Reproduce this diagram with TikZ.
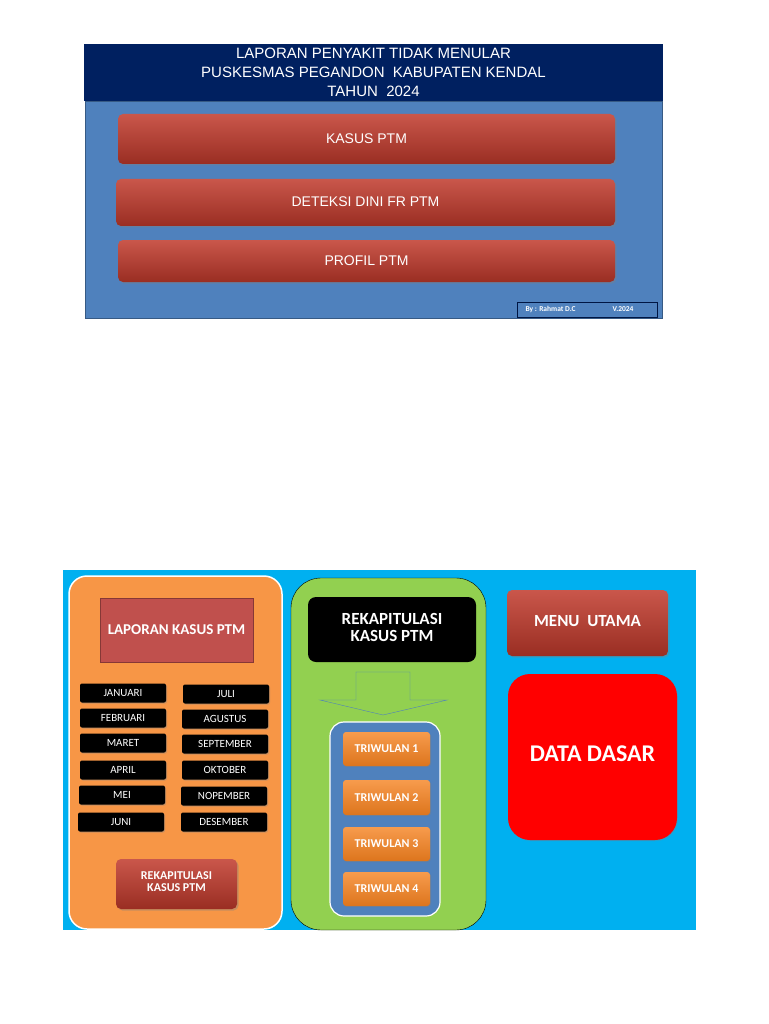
\documentclass[tikz,border=0pt]{standalone}
\usepackage{fontspec}
\setmainfont{Liberation Sans}
\newfontfamily\calfont{Carlito}
\usetikzlibrary{shadows}
\definecolor{navy}{HTML}{002060}
\definecolor{pblue}{HTML}{4F81BD}
\definecolor{bred}{HTML}{C0392B}
\definecolor{cyanbg}{HTML}{00B0F0}
\definecolor{orpan}{HTML}{F79646}
\definecolor{grpan}{HTML}{92D050}
\definecolor{lapred}{HTML}{C0504D}
\definecolor{triorange}{HTML}{F58220}
\tikzset{
 redbtn/.style={draw=none,rounded corners=5pt,top color=bred!85!white,bottom color=bred!80!black,drop shadow={opacity=0.4,shadow xshift=1.5pt,shadow yshift=-1.5pt},text=white},
 month/.style={fill=black,rounded corners=2pt,drop shadow={opacity=0.4,shadow xshift=1pt,shadow yshift=-1pt},text=white,font=\calfont\fontsize{11}{12}\selectfont},
 tri/.style={rounded corners=3pt,top color=triorange!80!white,bottom color=triorange!90!black,drop shadow={opacity=0.4,shadow xshift=1pt,shadow yshift=-1pt},text=white},
}
\begin{document}
\begin{tikzpicture}[x=1pt,y=-1pt]
\useasboundingbox (0,0) rectangle (768,1024);
\fill[white] (0,0) rectangle (768,1024);
% top
\fill[navy] (84,44) rectangle (663,101);
\node[text=white,align=center,font=\fontsize{15}{19}\selectfont] (title) at (373.5,72) {LAPORAN PENYAKIT TIDAK MENULAR\\PUSKESMAS PEGANDON\ \ KABUPATEN KENDAL\\TAHUN\ \ 2024};
\draw[fill=pblue,draw=pblue!70!black] (85,101) rectangle (662,318);
\path[redbtn] (118,114) rectangle (615,164);
\node[text=white,font=\fontsize{14}{16}\selectfont] (kasus) at (366.5,139) {KASUS PTM};
\path[redbtn] (116,179) rectangle (615,226);
\node[text=white,font=\fontsize{14}{16}\selectfont] (deteksi) at (365.5,202) {DETEKSI DINI FR PTM};
\path[redbtn] (118,240) rectangle (615,282);
\node[text=white,font=\fontsize{14}{16}\selectfont] (profil) at (366.5,261) {PROFIL PTM};
\draw[navy!70!black,fill=pblue] (517,302) rectangle (657,317);
\node[text=white,font=\calfont\bfseries\fontsize{7.5}{8}\selectfont,anchor=west] (by) at (522,309.5) {By : Rahmat D.C};
\node[text=white,font=\calfont\bfseries\fontsize{7.5}{8}\selectfont,anchor=west] (ver) at (609,309.5) {V.2024};
% bottom
\fill[cyanbg] (63,570) rectangle (696,930);
\draw[white,line width=1.5pt,fill=orpan,rounded corners=18pt] (69,576) rectangle (282,929);
\draw[lapred!70!black,fill=lapred] (100,598) rectangle (253,662);
\node[text=white,font=\calfont\bfseries\fontsize{15}{16}\selectfont] (lap) at (176.5,630) {LAPORAN KASUS PTM};
\foreach \n/\t/\x/\y in {ja/JANUARI/123/693, fe/FEBRUARI/123/718, ma/MARET/123/743, ap/APRIL/123/770, me/MEI/122/795, ju/JUNI/121/822}{
 \node[month,minimum width=86pt,minimum height=19pt] (\n) at (\x,\y) {\t};}
\foreach \n/\t/\x/\y in {jl/JULI/226/694, ag/AGUSTUS/225/719, se/SEPTEMBER/225/744, ok/OKTOBER/225/770, no/NOPEMBER/224/796, de/DESEMBER/224/822}{
 \node[month,minimum width=86pt,minimum height=19pt] (\n) at (\x,\y) {\t};}
\path[redbtn] (116,859) rectangle (237,909);
\node[text=white,align=center,font=\calfont\bfseries\fontsize{12}{12}\selectfont] (rek1) at (176.5,882) {REKAPITULASI\\KASUS PTM};
\draw[black,fill=grpan,rounded corners=30pt] (291,578) rectangle (486,930);
\fill[black,rounded corners=8pt] (308,597) rectangle (476,662);
\node[text=white,align=center,font=\calfont\bfseries\fontsize{17}{17}\selectfont] (rek2) at (392,627) {REKAPITULASI\\KASUS PTM};
\draw[pblue,fill=grpan] (356,672) -- (410,672) -- (410,700) -- (447,700) -- (383,715) -- (320,700) -- (356,700) -- cycle;
\draw[white,line width=1.2pt,fill=pblue,rounded corners=14pt] (330,722) rectangle (440,916);
\foreach \n/\t/\a/\b in {t1/1/732/766, t2/2/780/815, t3/3/827/861, t4/4/872/906}{
 \path[tri] (343,\a) rectangle (430,\b);
 \node[text=white,font=\calfont\bfseries\fontsize{12}{12}\selectfont] (\n) at (386.5,{(\a+\b)/2}) {TRIWULAN \t};}
\path[redbtn] (507,590) rectangle (668,656);
\node[text=white,font=\calfont\bfseries\fontsize{17}{20}\selectfont] (menu) at (587.5,621) {MENU\ \ UTAMA};
\path[fill=red,rounded corners=22pt,drop shadow={opacity=0.3,shadow xshift=1pt,shadow yshift=-1pt}] (508,674) rectangle (677,840);
\node[text=white,font=\calfont\bfseries\fontsize{24}{26}\selectfont] (dd) at (592.5,754) {DATA DASAR};
\end{tikzpicture}
\end{document}
